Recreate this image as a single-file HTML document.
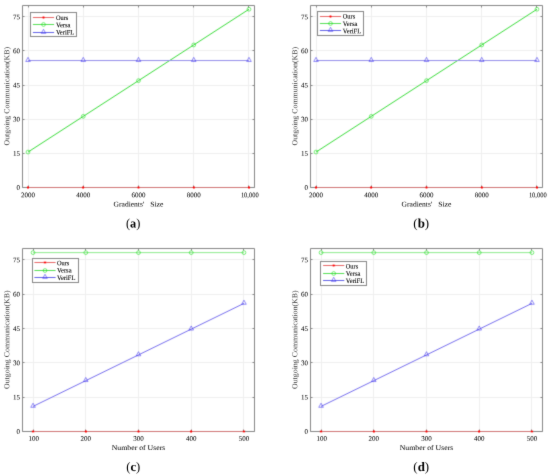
<!DOCTYPE html>
<html><head><meta charset="utf-8"><style>
html,body{margin:0;padding:0;background:#fff;width:550px;height:476px;overflow:hidden}
svg{display:block}
.t{font-family:"Liberation Serif",serif;fill:#000;stroke:#000}
.tk{font-size:7.0px;stroke-width:0.04px}
.lb{font-size:7.2px;stroke-width:0.02px}
.lg{font-size:6.8px;stroke-width:0.1px}
.yl{font-size:7.5px;stroke-width:0px}
.yl{fill:#3a3a3a}
.cap{font-family:"Liberation Serif",serif;font-size:13px;fill:#000}
path,polyline,circle,rect{stroke-width:1px}
</style></head><body>
<svg width="550" height="476" viewBox="0 0 550 476">
<defs><filter id="f" x="0" y="0" width="550" height="476" filterUnits="userSpaceOnUse" color-interpolation-filters="sRGB"><feConvolveMatrix order="3" kernelMatrix="1 6 1 6 36 6 1 6 1" divisor="64" edgeMode="duplicate" preserveAlpha="true"/></filter><filter id="ft" x="0" y="0" width="550" height="476" filterUnits="userSpaceOnUse" color-interpolation-filters="sRGB"><feConvolveMatrix order="3" kernelMatrix="1 10 1 10 100 10 1 10 1" divisor="144" edgeMode="none"/></filter></defs>
<g filter="url(#f)">
<rect width="550" height="476" fill="#fff"/>
<path d="M28.5 5.5V187.5M83.5 5.5V187.5M138.5 5.5V187.5M193.5 5.5V187.5M248.5 5.5V187.5M22.5 187.5H254.5M22.5 153.5H254.5M22.5 119.5H254.5M22.5 85.5H254.5M22.5 50.5H254.5M22.5 16.5H254.5" stroke="#efefef" fill="none"/>
<path d="M22.5 5.5H254.5V187.5H22.5ZM28.5 187.5v-2M28.5 5.5v2M83.5 187.5v-2M83.5 5.5v2M138.5 187.5v-2M138.5 5.5v2M193.5 187.5v-2M193.5 5.5v2M248.5 187.5v-2M248.5 5.5v2M22.5 187.5h2M254.5 187.5h-2M22.5 153.5h2M254.5 153.5h-2M22.5 119.5h2M254.5 119.5h-2M22.5 85.5h2M254.5 85.5h-2M22.5 50.5h2M254.5 50.5h-2M22.5 16.5h2M254.5 16.5h-2" stroke="#878787" fill="none"/>
<polyline points="28.024,187.5 83.262,187.5 138.5,187.5 193.738,187.5 248.976,187.5" stroke="#d07676" fill="none"/>
<path d="M27.024 187.5h2M28.024 186.5v2M27.324 186.8l1.4 1.4M27.324 188.2l1.4 -1.4" stroke="#ff0000"/>
<path d="M82.262 187.5h2M83.262 186.5v2M82.562 186.8l1.4 1.4M82.562 188.2l1.4 -1.4" stroke="#ff0000"/>
<path d="M137.5 187.5h2M138.5 186.5v2M137.8 186.8l1.4 1.4M137.8 188.2l1.4 -1.4" stroke="#ff0000"/>
<path d="M192.738 187.5h2M193.738 186.5v2M193.038 186.8l1.4 1.4M193.038 188.2l1.4 -1.4" stroke="#ff0000"/>
<path d="M247.976 187.5h2M248.976 186.5v2M248.276 186.8l1.4 1.4M248.276 188.2l1.4 -1.4" stroke="#ff0000"/>
<polyline points="28.024,152.055 83.262,116.361 138.5,80.643 193.738,44.948 248.976,9.254" stroke="#3cdc3c" fill="none" style="stroke-width:1.0px"/>
<circle cx="28.024" cy="152.055" r="1.9" fill="none" stroke="#10e010" style="stroke-width:0.55px"/>
<circle cx="83.262" cy="116.361" r="1.9" fill="none" stroke="#10e010" style="stroke-width:0.55px"/>
<circle cx="138.5" cy="80.643" r="1.9" fill="none" stroke="#10e010" style="stroke-width:0.55px"/>
<circle cx="193.738" cy="44.948" r="1.9" fill="none" stroke="#10e010" style="stroke-width:0.55px"/>
<circle cx="248.976" cy="9.254" r="1.9" fill="none" stroke="#10e010" style="stroke-width:0.55px"/>
<polyline points="28.024,60.555 83.262,60.555 138.5,60.555 193.738,60.555 248.976,60.555" stroke="#948eeb" fill="none"/>
<path d="M28.024 57.355L30.324 61.455H25.724Z" fill="none" stroke="#3a30f0" style="stroke-width:0.55px"/>
<path d="M83.262 57.355L85.562 61.455H80.962Z" fill="none" stroke="#3a30f0" style="stroke-width:0.55px"/>
<path d="M138.5 57.355L140.8 61.455H136.2Z" fill="none" stroke="#3a30f0" style="stroke-width:0.55px"/>
<path d="M193.738 57.355L196.038 61.455H191.438Z" fill="none" stroke="#3a30f0" style="stroke-width:0.55px"/>
<path d="M248.976 57.355L251.276 61.455H246.676Z" fill="none" stroke="#3a30f0" style="stroke-width:0.55px"/>
<rect x="30.5" y="12.5" width="46" height="24" fill="#fff" stroke="#878787"/>
<path d="M32.9 17.5H54.1" stroke="#e86a6a"/>
<path d="M42.5 17.5h2M43.5 16.5v2M42.8 16.8l1.4 1.4M42.8 18.2l1.4 -1.4" stroke="#ff0000"/>
<path d="M32.9 24.5H54.1" stroke="#58e058"/>
<circle cx="43.5" cy="24.5" r="1.9" fill="none" stroke="#10e010" style="stroke-width:0.55px"/>
<path d="M32.9 32.5H54.1" stroke="#6464e8"/>
<path d="M43.5 29.3L45.8 33.4H41.2Z" fill="none" stroke="#3a30f0" style="stroke-width:0.55px"/>
<path d="M316.5 5.5V187.5M371.5 5.5V187.5M426.5 5.5V187.5M481.5 5.5V187.5M536.5 5.5V187.5M310.5 187.5H542.5M310.5 153.5H542.5M310.5 119.5H542.5M310.5 85.5H542.5M310.5 50.5H542.5M310.5 16.5H542.5" stroke="#efefef" fill="none"/>
<path d="M310.5 5.5H542.5V187.5H310.5ZM316.5 187.5v-2M316.5 5.5v2M371.5 187.5v-2M371.5 5.5v2M426.5 187.5v-2M426.5 5.5v2M481.5 187.5v-2M481.5 5.5v2M536.5 187.5v-2M536.5 5.5v2M310.5 187.5h2M542.5 187.5h-2M310.5 153.5h2M542.5 153.5h-2M310.5 119.5h2M542.5 119.5h-2M310.5 85.5h2M542.5 85.5h-2M310.5 50.5h2M542.5 50.5h-2M310.5 16.5h2M542.5 16.5h-2" stroke="#878787" fill="none"/>
<polyline points="316.024,187.5 371.262,187.5 426.5,187.5 481.738,187.5 536.976,187.5" stroke="#d07676" fill="none"/>
<path d="M315.024 187.5h2M316.024 186.5v2M315.324 186.8l1.4 1.4M315.324 188.2l1.4 -1.4" stroke="#ff0000"/>
<path d="M370.262 187.5h2M371.262 186.5v2M370.562 186.8l1.4 1.4M370.562 188.2l1.4 -1.4" stroke="#ff0000"/>
<path d="M425.5 187.5h2M426.5 186.5v2M425.8 186.8l1.4 1.4M425.8 188.2l1.4 -1.4" stroke="#ff0000"/>
<path d="M480.738 187.5h2M481.738 186.5v2M481.038 186.8l1.4 1.4M481.038 188.2l1.4 -1.4" stroke="#ff0000"/>
<path d="M535.976 187.5h2M536.976 186.5v2M536.276 186.8l1.4 1.4M536.276 188.2l1.4 -1.4" stroke="#ff0000"/>
<polyline points="316.024,152.055 371.262,116.361 426.5,80.643 481.738,44.948 536.976,9.254" stroke="#3cdc3c" fill="none" style="stroke-width:1.0px"/>
<circle cx="316.024" cy="152.055" r="1.9" fill="none" stroke="#10e010" style="stroke-width:0.55px"/>
<circle cx="371.262" cy="116.361" r="1.9" fill="none" stroke="#10e010" style="stroke-width:0.55px"/>
<circle cx="426.5" cy="80.643" r="1.9" fill="none" stroke="#10e010" style="stroke-width:0.55px"/>
<circle cx="481.738" cy="44.948" r="1.9" fill="none" stroke="#10e010" style="stroke-width:0.55px"/>
<circle cx="536.976" cy="9.254" r="1.9" fill="none" stroke="#10e010" style="stroke-width:0.55px"/>
<polyline points="316.024,60.555 371.262,60.555 426.5,60.555 481.738,60.555 536.976,60.555" stroke="#948eeb" fill="none"/>
<path d="M316.024 57.355L318.324 61.455H313.724Z" fill="none" stroke="#3a30f0" style="stroke-width:0.55px"/>
<path d="M371.262 57.355L373.562 61.455H368.962Z" fill="none" stroke="#3a30f0" style="stroke-width:0.55px"/>
<path d="M426.5 57.355L428.8 61.455H424.2Z" fill="none" stroke="#3a30f0" style="stroke-width:0.55px"/>
<path d="M481.738 57.355L484.038 61.455H479.438Z" fill="none" stroke="#3a30f0" style="stroke-width:0.55px"/>
<path d="M536.976 57.355L539.276 61.455H534.676Z" fill="none" stroke="#3a30f0" style="stroke-width:0.55px"/>
<rect x="317.5" y="11.5" width="46" height="24" fill="#fff" stroke="#878787"/>
<path d="M319.9 16.5H341.1" stroke="#e86a6a"/>
<path d="M329.5 16.5h2M330.5 15.5v2M329.8 15.8l1.4 1.4M329.8 17.2l1.4 -1.4" stroke="#ff0000"/>
<path d="M319.9 23.5H341.1" stroke="#58e058"/>
<circle cx="330.5" cy="23.5" r="1.9" fill="none" stroke="#10e010" style="stroke-width:0.55px"/>
<path d="M319.9 30.5H341.1" stroke="#6464e8"/>
<path d="M330.5 27.3L332.8 31.4H328.2Z" fill="none" stroke="#3a30f0" style="stroke-width:0.55px"/>
<path d="M33.5 248.5V431.5M85.5 248.5V431.5M138.5 248.5V431.5M191.5 248.5V431.5M243.5 248.5V431.5M22.5 431.5H254.5M22.5 397.5H254.5M22.5 362.5H254.5M22.5 328.5H254.5M22.5 294.5H254.5M22.5 259.5H254.5" stroke="#efefef" fill="none"/>
<path d="M22.5 248.5H254.5V431.5H22.5ZM33.5 431.5v-2M33.5 248.5v2M85.5 431.5v-2M85.5 248.5v2M138.5 431.5v-2M138.5 248.5v2M191.5 431.5v-2M191.5 248.5v2M243.5 431.5v-2M243.5 248.5v2M22.5 431.5h2M254.5 431.5h-2M22.5 397.5h2M254.5 397.5h-2M22.5 362.5h2M254.5 362.5h-2M22.5 328.5h2M254.5 328.5h-2M22.5 294.5h2M254.5 294.5h-2M22.5 259.5h2M254.5 259.5h-2" stroke="#878787" fill="none"/>
<polyline points="33.045,431.5 85.773,431.5 138.5,431.5 191.227,431.5 243.955,431.5" stroke="#d07676" fill="none"/>
<path d="M32.045 431.5h2M33.045 430.5v2M32.345 430.8l1.4 1.4M32.345 432.2l1.4 -1.4" stroke="#ff0000"/>
<path d="M84.773 431.5h2M85.773 430.5v2M85.073 430.8l1.4 1.4M85.073 432.2l1.4 -1.4" stroke="#ff0000"/>
<path d="M137.5 431.5h2M138.5 430.5v2M137.8 430.8l1.4 1.4M137.8 432.2l1.4 -1.4" stroke="#ff0000"/>
<path d="M190.227 431.5h2M191.227 430.5v2M190.527 430.8l1.4 1.4M190.527 432.2l1.4 -1.4" stroke="#ff0000"/>
<path d="M242.955 431.5h2M243.955 430.5v2M243.255 430.8l1.4 1.4M243.255 432.2l1.4 -1.4" stroke="#ff0000"/>
<polyline points="33.045,252.618 85.773,252.618 138.5,252.618 191.227,252.618 243.955,252.618" stroke="#8eeb8e" fill="none"/>
<circle cx="33.045" cy="252.618" r="1.9" fill="none" stroke="#10e010" style="stroke-width:0.55px"/>
<circle cx="85.773" cy="252.618" r="1.9" fill="none" stroke="#10e010" style="stroke-width:0.55px"/>
<circle cx="138.5" cy="252.618" r="1.9" fill="none" stroke="#10e010" style="stroke-width:0.55px"/>
<circle cx="191.227" cy="252.618" r="1.9" fill="none" stroke="#10e010" style="stroke-width:0.55px"/>
<circle cx="243.955" cy="252.618" r="1.9" fill="none" stroke="#10e010" style="stroke-width:0.55px"/>
<polyline points="33.045,406.406 85.773,380.649 138.5,354.892 191.227,329.134 243.955,303.377" stroke="#7870ee" fill="none" style="stroke-width:1.0px"/>
<path d="M33.045 403.206L35.345 407.306H30.745Z" fill="none" stroke="#3a30f0" style="stroke-width:0.55px"/>
<path d="M85.773 377.449L88.073 381.549H83.473Z" fill="none" stroke="#3a30f0" style="stroke-width:0.55px"/>
<path d="M138.5 351.692L140.8 355.792H136.2Z" fill="none" stroke="#3a30f0" style="stroke-width:0.55px"/>
<path d="M191.227 325.934L193.527 330.034H188.927Z" fill="none" stroke="#3a30f0" style="stroke-width:0.55px"/>
<path d="M243.955 300.177L246.255 304.277H241.655Z" fill="none" stroke="#3a30f0" style="stroke-width:0.55px"/>
<rect x="32.5" y="258.5" width="46" height="24" fill="#fff" stroke="#878787"/>
<path d="M34.4 262.5H55.6" stroke="#e86a6a"/>
<path d="M44 262.5h2M45 261.5v2M44.3 261.8l1.4 1.4M44.3 263.2l1.4 -1.4" stroke="#ff0000"/>
<path d="M34.4 270.5H55.6" stroke="#58e058"/>
<circle cx="45" cy="270.5" r="1.9" fill="none" stroke="#10e010" style="stroke-width:0.55px"/>
<path d="M34.4 277.5H55.6" stroke="#6464e8"/>
<path d="M45 274.3L47.3 278.4H42.7Z" fill="none" stroke="#3a30f0" style="stroke-width:0.55px"/>
<path d="M321.5 248.5V431.5M373.5 248.5V431.5M426.5 248.5V431.5M479.5 248.5V431.5M531.5 248.5V431.5M310.5 431.5H542.5M310.5 397.5H542.5M310.5 362.5H542.5M310.5 328.5H542.5M310.5 294.5H542.5M310.5 259.5H542.5" stroke="#efefef" fill="none"/>
<path d="M310.5 248.5H542.5V431.5H310.5ZM321.5 431.5v-2M321.5 248.5v2M373.5 431.5v-2M373.5 248.5v2M426.5 431.5v-2M426.5 248.5v2M479.5 431.5v-2M479.5 248.5v2M531.5 431.5v-2M531.5 248.5v2M310.5 431.5h2M542.5 431.5h-2M310.5 397.5h2M542.5 397.5h-2M310.5 362.5h2M542.5 362.5h-2M310.5 328.5h2M542.5 328.5h-2M310.5 294.5h2M542.5 294.5h-2M310.5 259.5h2M542.5 259.5h-2" stroke="#878787" fill="none"/>
<polyline points="321.045,431.5 373.773,431.5 426.5,431.5 479.227,431.5 531.955,431.5" stroke="#d07676" fill="none"/>
<path d="M320.045 431.5h2M321.045 430.5v2M320.345 430.8l1.4 1.4M320.345 432.2l1.4 -1.4" stroke="#ff0000"/>
<path d="M372.773 431.5h2M373.773 430.5v2M373.073 430.8l1.4 1.4M373.073 432.2l1.4 -1.4" stroke="#ff0000"/>
<path d="M425.5 431.5h2M426.5 430.5v2M425.8 430.8l1.4 1.4M425.8 432.2l1.4 -1.4" stroke="#ff0000"/>
<path d="M478.227 431.5h2M479.227 430.5v2M478.527 430.8l1.4 1.4M478.527 432.2l1.4 -1.4" stroke="#ff0000"/>
<path d="M530.955 431.5h2M531.955 430.5v2M531.255 430.8l1.4 1.4M531.255 432.2l1.4 -1.4" stroke="#ff0000"/>
<polyline points="321.045,252.618 373.773,252.618 426.5,252.618 479.227,252.618 531.955,252.618" stroke="#8eeb8e" fill="none"/>
<circle cx="321.045" cy="252.618" r="1.9" fill="none" stroke="#10e010" style="stroke-width:0.55px"/>
<circle cx="373.773" cy="252.618" r="1.9" fill="none" stroke="#10e010" style="stroke-width:0.55px"/>
<circle cx="426.5" cy="252.618" r="1.9" fill="none" stroke="#10e010" style="stroke-width:0.55px"/>
<circle cx="479.227" cy="252.618" r="1.9" fill="none" stroke="#10e010" style="stroke-width:0.55px"/>
<circle cx="531.955" cy="252.618" r="1.9" fill="none" stroke="#10e010" style="stroke-width:0.55px"/>
<polyline points="321.045,406.406 373.773,380.649 426.5,354.892 479.227,329.134 531.955,303.377" stroke="#7870ee" fill="none" style="stroke-width:1.0px"/>
<path d="M321.045 403.206L323.345 407.306H318.745Z" fill="none" stroke="#3a30f0" style="stroke-width:0.55px"/>
<path d="M373.773 377.449L376.073 381.549H371.473Z" fill="none" stroke="#3a30f0" style="stroke-width:0.55px"/>
<path d="M426.5 351.692L428.8 355.792H424.2Z" fill="none" stroke="#3a30f0" style="stroke-width:0.55px"/>
<path d="M479.227 325.934L481.527 330.034H476.927Z" fill="none" stroke="#3a30f0" style="stroke-width:0.55px"/>
<path d="M531.955 300.177L534.255 304.277H529.655Z" fill="none" stroke="#3a30f0" style="stroke-width:0.55px"/>
<rect x="320.5" y="261.5" width="46" height="24" fill="#fff" stroke="#878787"/>
<path d="M323.1 265.5H344.3" stroke="#e86a6a"/>
<path d="M332.7 265.5h2M333.7 264.5v2M333 264.8l1.4 1.4M333 266.2l1.4 -1.4" stroke="#ff0000"/>
<path d="M323.1 273.5H344.3" stroke="#58e058"/>
<circle cx="333.7" cy="273.5" r="1.9" fill="none" stroke="#10e010" style="stroke-width:0.55px"/>
<path d="M323.1 280.5H344.3" stroke="#6464e8"/>
<path d="M333.7 277.3L336 281.4H331.4Z" fill="none" stroke="#3a30f0" style="stroke-width:0.55px"/>
</g>
<g filter="url(#ft)">
<text transform="translate(55.9 19.9) rotate(0.05)" class="t lg" textLength="12.3" lengthAdjust="spacingAndGlyphs">Ours</text>
<text transform="translate(55.9 27.2) rotate(0.05)" class="t lg" textLength="14.6" lengthAdjust="spacingAndGlyphs">Versa</text>
<text transform="translate(55.9 34.5) rotate(0.05)" class="t lg" textLength="18.4" lengthAdjust="spacingAndGlyphs">VeriFL</text>
<text transform="translate(28.024 197.2) rotate(0.05)" class="t tk" text-anchor="middle">2000</text>
<text transform="translate(83.262 197.2) rotate(0.05)" class="t tk" text-anchor="middle">4000</text>
<text transform="translate(138.5 197.2) rotate(0.05)" class="t tk" text-anchor="middle">6000</text>
<text transform="translate(193.738 197.2) rotate(0.05)" class="t tk" text-anchor="middle">8000</text>
<text transform="translate(249.776 197.2) rotate(0.05)" class="t tk" text-anchor="middle" textLength="17.8" lengthAdjust="spacingAndGlyphs">10,000</text>
<text transform="translate(20.1 189.85) rotate(0.05)" class="t tk" text-anchor="end">0</text>
<text transform="translate(20.1 155.725) rotate(0.05)" class="t tk" text-anchor="end">15</text>
<text transform="translate(20.1 121.6) rotate(0.05)" class="t tk" text-anchor="end">30</text>
<text transform="translate(20.1 87.475) rotate(0.05)" class="t tk" text-anchor="end">45</text>
<text transform="translate(20.1 53.35) rotate(0.05)" class="t tk" text-anchor="end">60</text>
<text transform="translate(20.1 19.225) rotate(0.05)" class="t tk" text-anchor="end">75</text>
<text transform="translate(138.5 206.4) rotate(0.05)" class="t lb"><tspan x="-24.9" textLength="30.6" lengthAdjust="spacingAndGlyphs">Gradients'</tspan><tspan x="11.7" textLength="13.2" lengthAdjust="spacingAndGlyphs">Size</tspan></text>
<text transform="translate(9.3 96.2) rotate(-89.95) scale(1.051 1)" class="t yl" text-anchor="middle">Outgoing Communication(KB)</text>
<text transform="translate(133.2 227.4) rotate(0.05)" class="cap" text-anchor="middle" textLength="14.4" lengthAdjust="spacingAndGlyphs">(<tspan font-weight="bold">a</tspan>)</text>
<text transform="translate(342.8 18.6) rotate(0.05)" class="t lg" textLength="12.3" lengthAdjust="spacingAndGlyphs">Ours</text>
<text transform="translate(342.8 25.9) rotate(0.05)" class="t lg" textLength="14.6" lengthAdjust="spacingAndGlyphs">Versa</text>
<text transform="translate(342.8 33.2) rotate(0.05)" class="t lg" textLength="18.4" lengthAdjust="spacingAndGlyphs">VeriFL</text>
<text transform="translate(316.024 197.2) rotate(0.05)" class="t tk" text-anchor="middle">2000</text>
<text transform="translate(371.262 197.2) rotate(0.05)" class="t tk" text-anchor="middle">4000</text>
<text transform="translate(426.5 197.2) rotate(0.05)" class="t tk" text-anchor="middle">6000</text>
<text transform="translate(481.738 197.2) rotate(0.05)" class="t tk" text-anchor="middle">8000</text>
<text transform="translate(537.776 197.2) rotate(0.05)" class="t tk" text-anchor="middle" textLength="17.8" lengthAdjust="spacingAndGlyphs">10,000</text>
<text transform="translate(308.1 189.85) rotate(0.05)" class="t tk" text-anchor="end">0</text>
<text transform="translate(308.1 155.725) rotate(0.05)" class="t tk" text-anchor="end">15</text>
<text transform="translate(308.1 121.6) rotate(0.05)" class="t tk" text-anchor="end">30</text>
<text transform="translate(308.1 87.475) rotate(0.05)" class="t tk" text-anchor="end">45</text>
<text transform="translate(308.1 53.35) rotate(0.05)" class="t tk" text-anchor="end">60</text>
<text transform="translate(308.1 19.225) rotate(0.05)" class="t tk" text-anchor="end">75</text>
<text transform="translate(426.5 206.4) rotate(0.05)" class="t lb"><tspan x="-24.9" textLength="30.6" lengthAdjust="spacingAndGlyphs">Gradients'</tspan><tspan x="11.7" textLength="13.2" lengthAdjust="spacingAndGlyphs">Size</tspan></text>
<text transform="translate(297.3 96.2) rotate(-89.95) scale(1.051 1)" class="t yl" text-anchor="middle">Outgoing Communication(KB)</text>
<text transform="translate(421.25 227.4) rotate(0.05)" class="cap" text-anchor="middle" textLength="15.8" lengthAdjust="spacingAndGlyphs">(<tspan font-weight="bold">b</tspan>)</text>
<text transform="translate(57 265.3) rotate(0.05)" class="t lg" textLength="12.3" lengthAdjust="spacingAndGlyphs">Ours</text>
<text transform="translate(57 272.6) rotate(0.05)" class="t lg" textLength="14.6" lengthAdjust="spacingAndGlyphs">Versa</text>
<text transform="translate(57 279.9) rotate(0.05)" class="t lg" textLength="18.4" lengthAdjust="spacingAndGlyphs">VeriFL</text>
<text transform="translate(33.845 440.75) rotate(0.05)" class="t tk" text-anchor="middle">100</text>
<text transform="translate(85.773 440.75) rotate(0.05)" class="t tk" text-anchor="middle">200</text>
<text transform="translate(138.5 440.75) rotate(0.05)" class="t tk" text-anchor="middle">300</text>
<text transform="translate(191.227 440.75) rotate(0.05)" class="t tk" text-anchor="middle">400</text>
<text transform="translate(243.955 440.75) rotate(0.05)" class="t tk" text-anchor="middle">500</text>
<text transform="translate(20.1 433.85) rotate(0.05)" class="t tk" text-anchor="end">0</text>
<text transform="translate(20.1 399.538) rotate(0.05)" class="t tk" text-anchor="end">15</text>
<text transform="translate(20.1 365.225) rotate(0.05)" class="t tk" text-anchor="end">30</text>
<text transform="translate(20.1 330.913) rotate(0.05)" class="t tk" text-anchor="end">45</text>
<text transform="translate(20.1 296.6) rotate(0.05)" class="t tk" text-anchor="end">60</text>
<text transform="translate(20.1 262.288) rotate(0.05)" class="t tk" text-anchor="end">75</text>
<text transform="translate(138.5 449.9) rotate(0.05) scale(1.08 1)" class="t lb" text-anchor="middle">Number of Users</text>
<text transform="translate(9.3 339.7) rotate(-89.95) scale(1.051 1)" class="t yl" text-anchor="middle">Outgoing Communication(KB)</text>
<text transform="translate(133.3 471) rotate(0.05)" class="cap" text-anchor="middle" textLength="14.0" lengthAdjust="spacingAndGlyphs">(<tspan font-weight="bold">c</tspan>)</text>
<text transform="translate(345.8 268.5) rotate(0.05)" class="t lg" textLength="12.3" lengthAdjust="spacingAndGlyphs">Ours</text>
<text transform="translate(345.8 275.8) rotate(0.05)" class="t lg" textLength="14.6" lengthAdjust="spacingAndGlyphs">Versa</text>
<text transform="translate(345.8 283.1) rotate(0.05)" class="t lg" textLength="18.4" lengthAdjust="spacingAndGlyphs">VeriFL</text>
<text transform="translate(321.845 440.75) rotate(0.05)" class="t tk" text-anchor="middle">100</text>
<text transform="translate(373.773 440.75) rotate(0.05)" class="t tk" text-anchor="middle">200</text>
<text transform="translate(426.5 440.75) rotate(0.05)" class="t tk" text-anchor="middle">300</text>
<text transform="translate(479.227 440.75) rotate(0.05)" class="t tk" text-anchor="middle">400</text>
<text transform="translate(531.955 440.75) rotate(0.05)" class="t tk" text-anchor="middle">500</text>
<text transform="translate(308.1 433.85) rotate(0.05)" class="t tk" text-anchor="end">0</text>
<text transform="translate(308.1 399.538) rotate(0.05)" class="t tk" text-anchor="end">15</text>
<text transform="translate(308.1 365.225) rotate(0.05)" class="t tk" text-anchor="end">30</text>
<text transform="translate(308.1 330.913) rotate(0.05)" class="t tk" text-anchor="end">45</text>
<text transform="translate(308.1 296.6) rotate(0.05)" class="t tk" text-anchor="end">60</text>
<text transform="translate(308.1 262.288) rotate(0.05)" class="t tk" text-anchor="end">75</text>
<text transform="translate(426.5 449.9) rotate(0.05) scale(1.08 1)" class="t lb" text-anchor="middle">Number of Users</text>
<text transform="translate(297.3 339.7) rotate(-89.95) scale(1.051 1)" class="t yl" text-anchor="middle">Outgoing Communication(KB)</text>
<text transform="translate(421.25 471) rotate(0.05)" class="cap" text-anchor="middle" textLength="15.8" lengthAdjust="spacingAndGlyphs">(<tspan font-weight="bold">d</tspan>)</text>
</g>
</svg>
</body></html>
